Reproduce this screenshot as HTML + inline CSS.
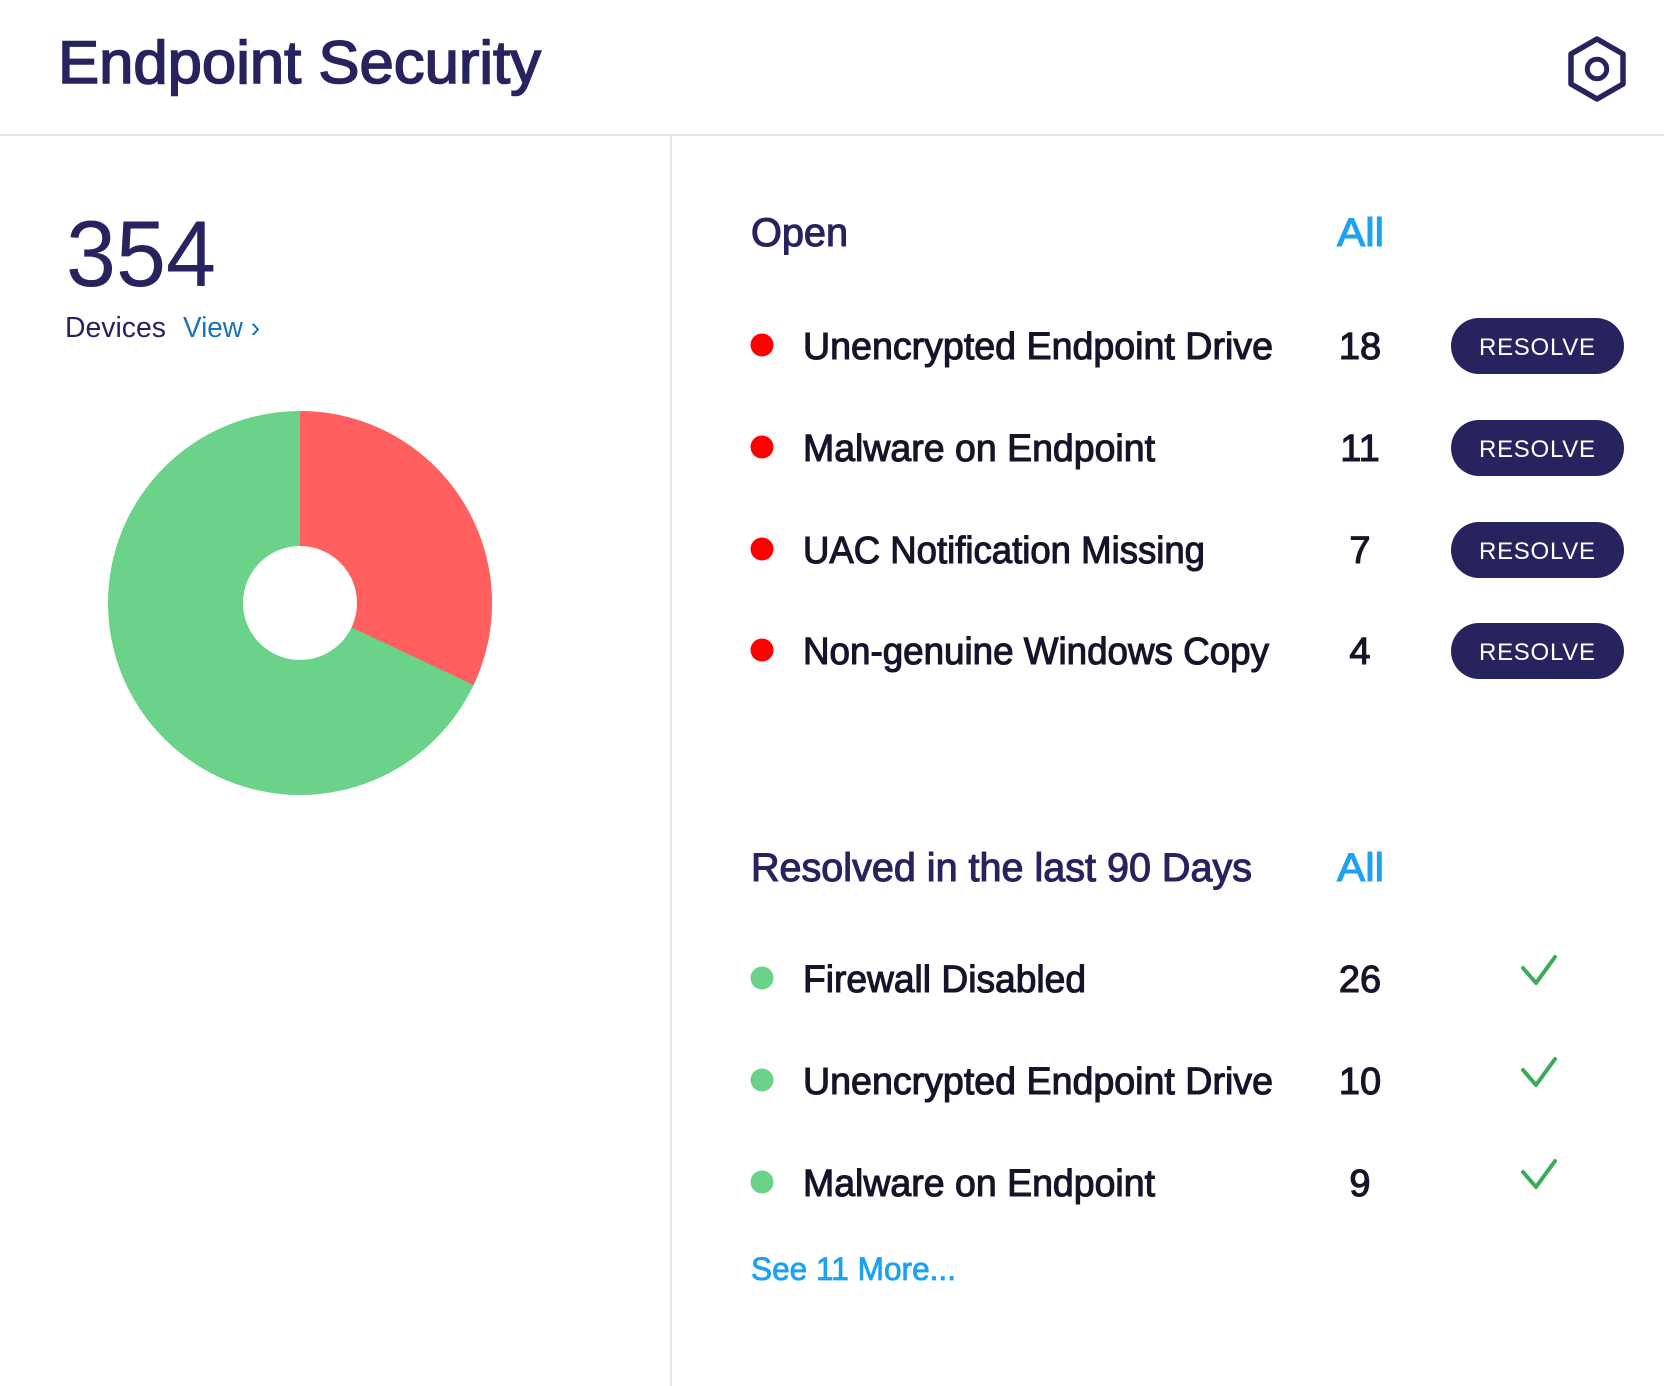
<!DOCTYPE html>
<html><head><meta charset="utf-8"><style>
html,body{margin:0;padding:0;background:#fff;width:1664px;height:1386px;overflow:hidden}
svg{display:block}
text{font-family:"Liberation Sans",sans-serif}
</style></head><body>
<svg width="1664" height="1386" viewBox="0 0 1664 1386" xmlns="http://www.w3.org/2000/svg">
<rect width="1664" height="1386" fill="#fff"/>
<text x="58" y="83" font-size="60" fill="#26235e" stroke="#26235e" stroke-width="1.6" textLength="483" lengthAdjust="spacingAndGlyphs">Endpoint Security</text>
<polygon points="1597,39 1623,54 1623,84 1597,99 1571,84 1571,54" fill="none" stroke="#26235e" stroke-width="5.5" stroke-linejoin="round"/>
<circle cx="1597" cy="69" r="9.7" fill="none" stroke="#26235e" stroke-width="5"/>
<line x1="0" y1="135" x2="1664" y2="135" stroke="#e6e6e6" stroke-width="2"/>
<line x1="671" y1="136" x2="671" y2="1386" stroke="#e6e6e6" stroke-width="2"/>

<text x="66" y="286" font-size="94" fill="#26235e" textLength="150" lengthAdjust="spacingAndGlyphs">354</text>
<text x="65" y="337" font-size="29" fill="#26235e" textLength="101" lengthAdjust="spacingAndGlyphs">Devices</text>
<text x="183" y="337" font-size="29" fill="#1a73b8" textLength="77" lengthAdjust="spacingAndGlyphs">View ›</text>

<g transform="translate(300,603)">
<circle r="192" fill="#6ad389"/>
<path d="M0,0 L0,-192 A192,192 0 0,1 173.6,82.0 Z" fill="#ff5f5f"/>
<circle r="57" fill="#fff"/>
</g>

<g font-size="40" fill="#26235e" stroke="#26235e" stroke-width="1.1">
<text x="751" y="246" textLength="97" lengthAdjust="spacingAndGlyphs">Open</text>
<text x="1337" y="246" fill="#1da1f2" stroke="#1da1f2" textLength="47" lengthAdjust="spacingAndGlyphs">All</text>
<text x="751" y="881" textLength="501" lengthAdjust="spacingAndGlyphs">Resolved in the last 90 Days</text>
<text x="1337" y="881" fill="#1da1f2" stroke="#1da1f2" textLength="47" lengthAdjust="spacingAndGlyphs">All</text>
</g>

<g font-size="38" fill="#15152a">
<circle cx="762" cy="345" r="11.5" fill="#ff0000"/>
<circle cx="762" cy="447" r="11.5" fill="#ff0000"/>
<circle cx="762" cy="549" r="11.5" fill="#ff0000"/>
<circle cx="762" cy="650" r="11.5" fill="#ff0000"/>
<circle cx="762" cy="978" r="11.5" fill="#6ad389"/>
<circle cx="762" cy="1080" r="11.5" fill="#6ad389"/>
<circle cx="762" cy="1182" r="11.5" fill="#6ad389"/>
<g stroke="#15152a" stroke-width="1.1">
<text x="803" y="359" textLength="470" lengthAdjust="spacingAndGlyphs">Unencrypted Endpoint Drive</text>
<text x="1360" y="359" text-anchor="middle">18</text>
<text x="803" y="461" textLength="352" lengthAdjust="spacingAndGlyphs">Malware on Endpoint</text>
<text x="1360" y="461" text-anchor="middle">11</text>
<text x="803" y="563" textLength="402" lengthAdjust="spacingAndGlyphs">UAC Notification Missing</text>
<text x="1360" y="563" text-anchor="middle">7</text>
<text x="803" y="664" textLength="466" lengthAdjust="spacingAndGlyphs">Non-genuine Windows Copy</text>
<text x="1360" y="664" text-anchor="middle">4</text>
<text x="803" y="992" textLength="283" lengthAdjust="spacingAndGlyphs">Firewall Disabled</text>
<text x="1360" y="992" text-anchor="middle">26</text>
<text x="803" y="1094" textLength="470" lengthAdjust="spacingAndGlyphs">Unencrypted Endpoint Drive</text>
<text x="1360" y="1094" text-anchor="middle">10</text>
<text x="803" y="1196" textLength="352" lengthAdjust="spacingAndGlyphs">Malware on Endpoint</text>
<text x="1360" y="1196" text-anchor="middle">9</text>
</g>
</g>

<g fill="#26235e">
<rect x="1451" y="318" width="173" height="56" rx="28"/>
<rect x="1451" y="420" width="173" height="56" rx="28"/>
<rect x="1451" y="522" width="173" height="56" rx="28"/>
<rect x="1451" y="623" width="173" height="56" rx="28"/>
</g>
<g font-size="24" fill="#fff">
<text x="1479" y="355" textLength="116" lengthAdjust="spacing">RESOLVE</text>
<text x="1479" y="457" textLength="116" lengthAdjust="spacing">RESOLVE</text>
<text x="1479" y="559" textLength="116" lengthAdjust="spacing">RESOLVE</text>
<text x="1479" y="660" textLength="116" lengthAdjust="spacing">RESOLVE</text>
</g>

<g fill="none" stroke="#3bab5a" stroke-width="4" stroke-linecap="round" stroke-linejoin="round">
<polyline points="1523,968 1536,983 1555,957"/>
<polyline points="1523,1070 1536,1085 1555,1059"/>
<polyline points="1523,1172 1536,1187 1555,1161"/>
</g>

<text x="751" y="1280" font-size="32" fill="#1da1f2" stroke="#1da1f2" stroke-width="0.8" textLength="205" lengthAdjust="spacingAndGlyphs">See 11 More...</text>
</svg>
</body></html>
